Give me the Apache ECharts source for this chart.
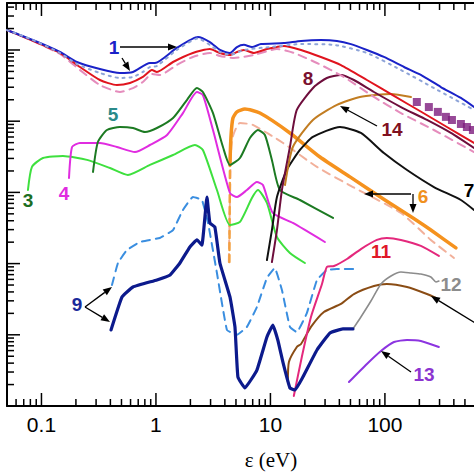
<!DOCTYPE html>
<html>
<head>
<meta charset="utf-8">
<script src="https://cdn.jsdelivr.net/npm/echarts@6/dist/echarts.min.js"></script>
<style>
html, body { margin: 0; padding: 0; background: #fff; }
#main { width: 474px; height: 474px; }
</style>
</head>
<body>
<div id="main"></div>
<script>
// axis ranges (eV on x, arbitrary log units on y)
var X_MIN = 0.05, X_MAX = 600;
var Y_MIN = 1, Y_MAX = 457000;

var xMajorTicks = [0.1, 1, 10, 100];
var xTickLabels = ['0.1', '1', '10', '100'];
var xMinorTicks = [0.06, 0.07, 0.08, 0.09, 0.2, 0.3, 0.4, 0.5, 0.6, 0.7, 0.8, 0.9,
    2, 3, 4, 5, 6, 7, 8, 9, 20, 30, 40, 50, 60, 70, 80, 90, 200, 300, 400, 500];
var yMajorTicks = [1, 10, 100, 1000, 10000, 100000];
var yMinorTicks = [2, 3, 4, 5, 6, 7, 8, 9, 20, 30, 40, 50, 60, 70, 80, 90,
    200, 300, 400, 500, 600, 700, 800, 900, 2000, 3000, 4000, 5000, 6000, 7000, 8000, 9000,
    20000, 30000, 40000, 50000, 60000, 70000, 80000, 90000, 200000, 300000, 400000];

// curves, [energy, value]
var curve1 = [[0.05,191000],[0.084,138000],[0.145,93800],[0.204,67800],[0.324,54000],[0.485,47500],[0.63,49100],
    [0.886,65700],[0.98,65700],[1.52,107000],[2.33,152000],[2.96,129000],[3.62,100000],[4.43,90800],[5.1,110000],
    [5.87,118000],[6.89,110000],[8.26,121000],[13.1,125000],[18.5,134000],[27.6,138000],[38.1,134000],[50.5,121000],
    [69.6,100000],[98,79800],[147,57700],[206,44600],[308,30200],[461,21200],[600,15800]];
var curve1dot = [[0.05,191000],[0.084,138000],[0.145,90800],[0.204,63500],[0.324,47500],[0.485,40400],[0.63,41800],
    [0.769,49100],[0.886,57700],[1.02,59600],[1.52,100000],[2.33,145000],[2.96,118000],[3.62,93800],[4.43,85100],
    [5.87,100000],[9.9,110000],[18.5,121000],[35.9,118000],[69.6,90800],[138,52300],[268,29200],[600,14400]];
var curve2 = [[0.05,191000],[0.084,134000],[0.145,90800],[0.217,57700],[0.324,37900],[0.456,32200],[0.593,34400],
    [0.769,41800],[0.923,52300],[1.02,49100],[1.41,67800],[2.1,90800],[2.96,103000],[3.62,90800],[4.43,85100],
    [5.1,93800],[5.87,100000],[7.18,90800],[9.31,103000],[13.1,114000],[18.5,100000],[27.6,79800],[41.3,61500],
    [69.6,37900],[120,22600],[202,13900],[348,8290],[600,4940]];
var curve2dash = [[0.05,191000],[0.084,134000],[0.145,87900],[0.217,52300],[0.324,32200],[0.485,25700],[0.63,29200],
    [0.769,35500],[0.923,46000],[1.08,44600],[1.52,61500],[2.1,79800],[2.96,90800],[3.62,82400],[4.8,77200],
    [7.18,85100],[11.4,103000],[16,90800],[25.5,65700],[43.8,41800],[80.2,21900],[138,13000],[268,7520],[600,3690]];
var curve3 = [[0.0762,1080],[0.0826,2280],[0.103,3040],[0.154,3250],[0.25,2860],[0.397,2200],[0.569,1760],[0.886,2430],
    [1.41,3350],[2.19,4630],[2.57,3940],[3.41,1080],[4.43,348],[5.42,384],[6.89,834],[7.78,1080],[9.32,710],
    [11.4,236],[14.8,141],[20,102]];
var curve4 = [[0.174,1590],[0.185,4340],[0.217,4940],[0.324,4940],[0.456,4340],[0.656,3690],[0.886,4630],[1.25,6400],
    [1.72,13000],[2.28,25700],[2.57,23300],[3.15,7520],[4.43,981],[5.1,861],[6.23,1080],[7.62,1400],[8.6,1270],
    [10.5,514],[15.7,372],[29.9,201]];
var curve5 = [[0.282,1940],[0.311,5100],[0.373,7520],[0.485,8290],[0.63,8020],[0.802,7050],[1.02,8020],[1.41,11100],
    [1.87,20000],[2.28,29200],[2.57,25700],[3.15,13000],[3.85,4340],[4.43,2430],[5.42,3040],[6.62,5810],[7.78,7520],
    [8.95,6400],[10.3,2860],[12.1,1080],[18.1,782],[35.2,437]];
var curve6 = [[4.43,2430],[4.52,6000],[4.7,11000],[5.1,13500],[5.98,14800],[8.09,13000],[14.8,6830],[27.1,3140],
    [49.5,1650],[100,782],[176,437],[252,296],[417,166]];
var curve6low = [[4.38,105],[4.43,2430]];
var curve6dash = [[4.33,105],[4.43,782],[4.61,5450],[5.42,9440],[7.03,8850],[12.9,4940],[25.5,2280],[52.6,1190],
    [138,514],[252,215],[401,120]];
var curve7 = [[9.32,112],[10.3,296],[11.4,861],[13.9,2060],[18.1,3940],[23.5,6000],[40.5,8290],[61.7,6830],[98,3570],
    [156,2060],[268,1190],[461,782],[600,566]];
var curve8 = [[10.3,105],[11.4,296],[12.6,1080],[14.8,4340],[17,14400],[24,30200],[31.1,40400],[41.3,44600],
    [53.6,37900],[80.2,25700],[138,15800],[233,10400],[377,6830],[600,4200]];
var curve9 = [[0.405,11.7],[0.505,34],[0.63,46.9],[1.02,58.9],[1.33,69.2],[1.62,102],[1.98,171],[2.28,215],[2.52,182],
    [2.79,861],[2.96,372],[3.27,327],[3.62,102],[4.43,34],[4.9,12.9],[5.2,2.55],[5.98,1.79],[7.62,3.2],[9.32,9.31],
    [10.5,13.7],[11.6,8.45],[12.9,4.02],[14.8,1.79],[16.4,1.68],[19.2,2.55],[25.5,6.12],[33.1,10.6],[43,12.1],[52.6,12.1]];
var curve9dash = [[0.413,50.1],[0.466,102],[0.558,155],[0.725,201],[1.08,229],[1.41,296],[1.72,566],[2.1,861],
    [2.52,782],[2.85,372],[3.41,73.8],[4.17,11.7],[5.1,10],[6.23,12.9],[7.62,24.6],[9.32,62.8],[10.9,86.7],[12.6,42.6],
    [14.8,12.9],[17,10.9],[20.8,20.2],[25.5,58.9],[31.1,81.3],[38.1,84],[56.9,84]];
var curve10 = [[14.2,2.17],[14.5,4.15],[17,6.74],[18.5,7.43],[22.6,12.9],[29.3,20.9],[41.3,27.1],[53.6,37.4],
    [80.2,48.5],[104,51.7],[156,46.9],[233,37.4],[279,32.9]];
var curve11 = [[16,1.38],[18.8,4.88],[22.6,17.8],[28.2,51.7],[31.1,89.6],[35.9,92.5],[46.6,116],[61.7,160],
    [85.1,215],[104,229],[138,215],[206,177],[296,128]];
var curve12 = [[52.6,12.1],[61.7,17.8],[75.5,29.8],[92.3,51.7],[113,66.9],[138,76.2],[169,73.8],[206,71.4],
    [252,64.8],[279,55.2],[296,57]];
var curve13 = [[48.5,2.17],[69.6,3.89],[92.3,5.92],[120,7.92],[156,8.45],[206,8.18],[296,6.74]];
var curve14 = [[13.4,1270],[15.7,4340],[23.5,10400],[38.1,16900],[60.5,21900],[113,24100],[169,21900]];
var squares = [[190,18600],[242,15800],[290,13500],[341,11500],[385,10400],[461,9140],[520,8290],[587,7520]];

var FONT = '"Liberation Sans", Arial, Helvetica, sans-serif';

function line(data, color, width, dash, smooth) {
    return {
        type: 'line',
        data: data,
        showSymbol: false,
        symbol: 'none',
        silent: true,
        animation: false,
        smooth: smooth === undefined ? 0.2 : smooth,
        lineStyle: { color: color, width: width, type: dash || 'solid', cap: 'round', join: 'round' }
    };
}

// arrows drawn as graphic lines + head
function arrow(x1, y1, x2, y2) {
    var a = Math.atan2(y2 - y1, x2 - x1), L = 9, W = 3.5;
    var bx = x2 - L * Math.cos(a), by = y2 - L * Math.sin(a);
    return [
        { type: 'line', shape: { x1: x1, y1: y1, x2: bx, y2: by }, style: { stroke: '#000', lineWidth: 1.3 }, z: 100 },
        { type: 'polygon', shape: { points: [[x2, y2], [bx - W * Math.sin(a), by + W * Math.cos(a)], [bx + W * Math.sin(a), by - W * Math.cos(a)]] },
          style: { fill: '#000' }, z: 100 }
    ];
}

function label(text, x, y, color) {
    return { type: 'text', x: x, y: y, z: 100,
        style: { text: text, fill: color, font: 'bold 19px ' + FONT, align: 'center', verticalAlign: 'middle' } };
}

var graphics = [].concat(
    arrow(120, 47, 177, 47), arrow(122, 58, 130, 71),
    arrow(377, 126, 340, 106),
    arrow(411, 194, 364, 194), arrow(413, 194, 413, 213),
    arrow(85, 307, 112, 287), arrow(85, 307, 110, 322),
    arrow(411, 372, 381, 351),
    arrow(482, 327, 431, 296),
    [label('1', 114, 47, '#1a22c8'), label('5', 113, 114, '#2a8a8a'), label('3', 28, 200, '#1c6e22'),
     label('4', 64, 193, '#e02ce0'), label('8', 308, 78, '#7a1030'), label('14', 392, 129, '#801020'),
     label('6', 423, 196, '#f0901e'), label('7', 469, 190, '#000'), label('11', 381, 251, '#e01828'),
     label('12', 451, 284, '#8c8c8c'), label('13', 424, 374, '#8c34d0'), label('9', 77, 304, '#1a2a9a'),
     { type: 'text', x: 271, y: 460, style: { text: 'ε (eV)', fill: '#000', font: '21px "Liberation Serif", "Times New Roman", serif',
        align: 'center', verticalAlign: 'middle' } }]
);

var xTickData = xMajorTicks.map(function (v, i) { return [v, 13, i]; })
    .concat(xMinorTicks.map(function (v) { return [v, 7, -1]; }));
var yTickData = yMajorTicks.map(function (v) { return [13, v]; })
    .concat(yMinorTicks.map(function (v) { return [7, v]; }));

var myChart = echarts.init(document.getElementById('main'), null, { renderer: 'svg' });

var hidden = { axisTick: { show: false }, axisLabel: { show: false }, splitLine: { show: false } };
var axisLine = { show: true, onZero: false, lineStyle: { color: '#000', width: 2 } };

var option = {
    backgroundColor: '#fff',
    animation: false,
    grid: { left: 7, right: 0, top: 3, bottom: 68 },
    xAxis: [
        Object.assign({ type: 'log', min: X_MIN, max: X_MAX, position: 'bottom', axisLine: axisLine }, hidden),
        Object.assign({ type: 'log', min: X_MIN, max: X_MAX, position: 'top', axisLine: axisLine }, hidden)
    ],
    yAxis: [
        Object.assign({ type: 'log', min: Y_MIN, max: Y_MAX, position: 'left', axisLine: axisLine }, hidden)
    ],
    graphic: graphics,
    series: [
        line(curve6dash, '#f2b09a', 2, [8, 6]),
        line(curve6low, '#f3a040', 2.5, [7, 5], false),
        line(curve6, '#f5921e', 3.5),
        line(curve3, '#3ee03e', 2),
        line(curve4, '#e02ce0', 2),
        line(curve5, '#1c7a22', 2),
        line(curve7, '#111111', 2),
        line(curve14, '#c27d22', 2),
        line(curve8, '#6e0e3c', 2),
        line(curve2dash, '#e58cbc', 2, [8, 6]),
        line(curve2, '#e0141e', 2),
        line(curve1, '#1a22c8', 2),
        line(curve1dot, '#8ea4d8', 2, [2, 5]),
        line(curve9dash, '#3a8ee0', 2, [8, 6], 0.1),
        line(curve10, '#8a4c14', 2),
        line(curve11, '#e4287c', 2),
        line(curve12, '#8c8c8c', 1.6),
        line(curve13, '#8c34e0', 2),
        line(curve9, '#0c1a8c', 3.2, null, 0.1),
        {
            type: 'scatter', data: squares, symbol: 'rect', symbolSize: 8, silent: true,
            itemStyle: { color: '#7d1b7d' }
        },
        {
            // x ticks (bottom + top) and x tick labels
            type: 'custom', data: xTickData, silent: true, clip: false, z: 50,
            encode: { x: 0, y: 1 },
            renderItem: function (params, api) {
                var v = api.value(0), len = api.value(1), idx = api.value(2);
                var b = api.coord([v, Y_MIN]), t = api.coord([v, Y_MAX]);
                var kids = [
                    { type: 'line', shape: { x1: b[0], y1: b[1], x2: b[0], y2: b[1] - len }, style: { stroke: '#000', lineWidth: 1.5 } },
                    { type: 'line', shape: { x1: t[0], y1: t[1], x2: t[0], y2: t[1] + len }, style: { stroke: '#000', lineWidth: 1.5 } }
                ];
                if (idx >= 0) {
                    kids.push({ type: 'text', x: b[0], y: b[1] + 8,
                        style: { text: xTickLabels[idx], fill: '#000', font: '21px ' + FONT, align: 'center', verticalAlign: 'top' } });
                }
                return { type: 'group', children: kids };
            }
        },
        {
            // y ticks on the left
            type: 'custom', data: yTickData, silent: true, clip: false, z: 50,
            encode: { x: 0, y: 1 },
            renderItem: function (params, api) {
                var len = api.value(0), v = api.value(1);
                var p = api.coord([X_MIN, v]);
                return { type: 'line', shape: { x1: p[0], y1: p[1], x2: p[0] + len, y2: p[1] }, style: { stroke: '#000', lineWidth: 1.5 } };
            }
        }
    ]
};

myChart.setOption(option);
</script>
</body>
</html>
